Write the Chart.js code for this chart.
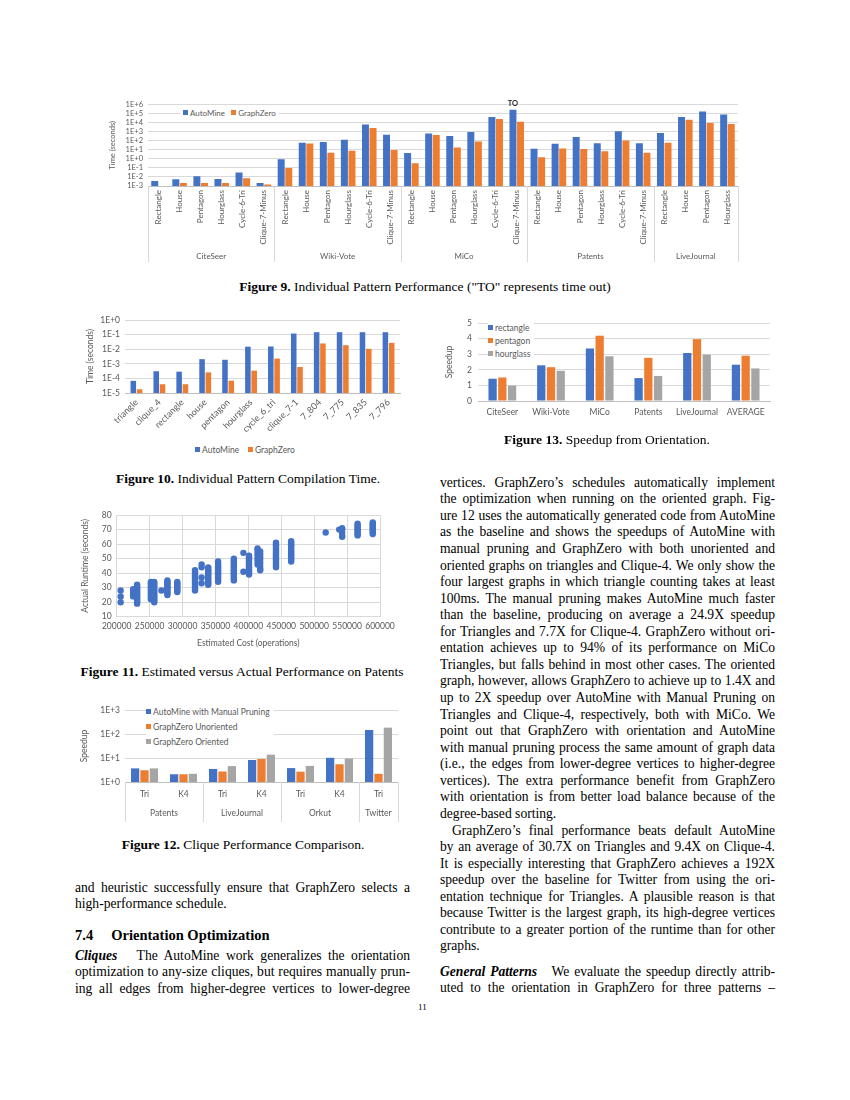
<!DOCTYPE html>
<html>
<head>
<meta charset="utf-8">
<script src="https://cdn.jsdelivr.net/npm/chart.js@4.4.0/dist/chart.umd.min.js"></script>
<style>
  body { margin: 0; width: 850px; height: 1100px; position: relative; background: #fff; overflow: hidden;
         font-family: 'Liberation Serif', serif; color: #000; }
  canvas { position: absolute; }
  .caption { position: absolute; width: 400px; font-size: 13.5px; line-height: 16px; text-align: center; white-space: nowrap; }
  .legend { position: absolute; font-family: Lato, sans-serif; color: #595959; background: #fff; white-space: nowrap; }
  .legend .sw { display: inline-block; width: 5px; height: 5px; margin-right: 2px; vertical-align: 1px; }
  .col { position: absolute; width: 335px; font-size: 13.6px; line-height: 16.57px; }
  .col div { text-align: justify; text-align-last: justify; white-space: nowrap; }
  .col div.last { text-align-last: left; }
  .col div.ind { padding-left: 12px; }
</style>
</head>
<body>

<canvas id="fig9" width="650" height="175" style="left:100px;top:95px"></canvas>
<div class="legend" style="left:180px;top:108px;font-size:8px;line-height:10px;padding:0 3px">
  <span class="sw" style="background:#4472C4"></span>AutoMine&nbsp;&nbsp;&nbsp;<span class="sw" style="background:#ED7D31"></span>GraphZero
</div>
<div class="caption" style="left:225px;top:279px"><b>Figure 9.</b> Individual Pattern Performance ("TO" represents time out)</div>

<canvas id="fig10" width="330" height="132" style="left:80px;top:310px"></canvas>
<div class="legend" style="left:195px;top:445px;font-size:8.5px;line-height:10px">
  <span class="sw" style="background:#4472C4"></span>AutoMine&nbsp;&nbsp;&nbsp;&nbsp;<span class="sw" style="background:#ED7D31"></span>GraphZero
</div>
<div class="caption" style="left:48px;top:471px"><b>Figure 10.</b> Individual Pattern Compilation Time.</div>

<canvas id="fig11" width="325" height="145" style="left:75px;top:505px"></canvas>
<div class="caption" style="left:42px;top:664px"><b>Figure 11.</b> Estimated versus Actual Performance on Patents</div>

<canvas id="fig12" width="330" height="125" style="left:75px;top:700px"></canvas>
<div class="legend" style="left:146px;top:705px;font-size:8.5px;line-height:15px;padding-right:4px">
  <div><span class="sw" style="background:#4472C4"></span>AutoMine with Manual Pruning</div>
  <div><span class="sw" style="background:#ED7D31"></span>GraphZero Unoriented</div>
  <div><span class="sw" style="background:#A5A5A5"></span>GraphZero Oriented</div>
</div>
<div class="caption" style="left:43px;top:837px"><b>Figure 12.</b> Clique Performance Comparison.</div>

<canvas id="fig13" width="345" height="110" style="left:435px;top:312px"></canvas>
<div class="legend" style="left:488px;top:322px;font-size:8.5px;line-height:13px;padding-right:4px">
  <div><span class="sw" style="background:#4472C4"></span>rectangle</div>
  <div><span class="sw" style="background:#ED7D31"></span>pentagon</div>
  <div><span class="sw" style="background:#A5A5A5"></span>hourglass</div>
</div>
<div class="caption" style="left:407px;top:432px"><b>Figure 13.</b> Speedup from Orientation.</div>

<div class="col" style="left:75px;top:879.7px">
  <div>and heuristic successfully ensure that GraphZero selects a</div>
  <div class="last">high-performance schedule.</div>
</div>
<div style="position:absolute;left:75px;top:926px;font-size:14.5px;line-height:18px;font-weight:bold;white-space:nowrap">7.4&nbsp;&nbsp;&nbsp;&nbsp;&nbsp;Orientation Optimization</div>
<div class="col" style="left:75px;top:947.7px">
  <div><b><i>Cliques</i></b>&nbsp;&nbsp; The AutoMine work generalizes the orientation</div>
  <div>optimization to any-size cliques, but requires manually prun-</div>
  <div>ing all edges from higher-degree vertices to lower-degree</div>
</div>
<div style="position:absolute;left:418px;top:1002px;font-size:9px;font-family:'Liberation Serif',serif">11</div>

<div class="col" style="left:440px;top:474.7px">
  <div>vertices. GraphZero’s schedules automatically implement</div>
  <div>the optimization when running on the oriented graph. Fig-</div>
  <div>ure 12 uses the automatically generated code from AutoMine</div>
  <div>as the baseline and shows the speedups of AutoMine with</div>
  <div>manual pruning and GraphZero with both unoriented and</div>
  <div>oriented graphs on triangles and Clique-4. We only show the</div>
  <div>four largest graphs in which triangle counting takes at least</div>
  <div>100ms. The manual pruning makes AutoMine much faster</div>
  <div>than the baseline, producing on average a 24.9X speedup</div>
  <div>for Triangles and 7.7X for Clique-4. GraphZero without ori-</div>
  <div>entation achieves up to 94% of its performance on MiCo</div>
  <div>Triangles, but falls behind in most other cases. The oriented</div>
  <div>graph, however, allows GraphZero to achieve up to 1.4X and</div>
  <div>up to 2X speedup over AutoMine with Manual Pruning on</div>
  <div>Triangles and Clique-4, respectively, both with MiCo. We</div>
  <div>point out that GraphZero with orientation and AutoMine</div>
  <div>with manual pruning process the same amount of graph data</div>
  <div>(i.e., the edges from lower-degree vertices to higher-degree</div>
  <div>vertices). The extra performance benefit from GraphZero</div>
  <div>with orientation is from better load balance because of the</div>
  <div class="last">degree-based sorting.</div>
  <div class="ind">GraphZero’s final performance beats default AutoMine</div>
  <div>by an average of 30.7X on Triangles and 9.4X on Clique-4.</div>
  <div>It is especially interesting that GraphZero achieves a 192X</div>
  <div>speedup over the baseline for Twitter from using the ori-</div>
  <div>entation technique for Triangles. A plausible reason is that</div>
  <div>because Twitter is the largest graph, its high-degree vertices</div>
  <div>contribute to a greater portion of the runtime than for other</div>
  <div class="last">graphs.</div>
</div>
<div class="col" style="left:440px;top:963.7px">
  <div><b><i>General Patterns</i></b>&nbsp;&nbsp; We evaluate the speedup directly attrib-</div>
  <div>uted to the orientation in GraphZero for three patterns –</div>
</div>

<script>
// Figure 9: per-pattern run time (seconds), log scale
const fig9Groups = ['CiteSeer', 'Wiki-Vote', 'MiCo', 'Patents', 'LiveJournal'];
const fig9GroupSizes = [6, 6, 6, 6, 4];
const sixPatterns = ['Rectangle', 'House', 'Pentagon', 'Hourglass', 'Cycle-6-Tri', 'Clique-7-Minus'];
const fig9Patterns = [...sixPatterns, ...sixPatterns, ...sixPatterns, ...sixPatterns,
    'Rectangle', 'House', 'Pentagon', 'Hourglass'];
const fig9AutoMine = [0.0036, 0.0055, 0.012, 0.006, 0.031, 0.0021,
    0.9, 60, 70, 125, 6000, 450,
    4.4, 620, 340, 930, 41000, 260000,
    13, 46, 265, 54, 1100, 54,
    720, 41000, 170000, 80000];
const fig9GraphZero = [null, 0.0021, 0.0021, 0.0021, 0.007, 0.0015,
    0.1, 50, 4.7, 8, 2500, 9.5,
    0.32, 440, 18, 81, 25000, 12600,
    1.45, 14, 12, 7, 105, 4.7,
    59, 21000, 9100, 7100];
const fig9TickValues = [1e-3, 1e-2, 1e-1, 1e0, 1e1, 1e2, 1e3, 1e4, 1e5, 1e6];
const fig9TickLabels = ['1E-3', '1E-2', '1E-1', '1E+0', '1E+1', '1E+2', '1E+3', '1E+4', '1E+5', '1E+6'];
const fig9TimeoutIndex = 17; // MiCo Clique-7-Minus

// Figure 10: compilation time (seconds), log scale
const fig10Patterns = ['triangle', 'clique_4', 'rectangle', 'house', 'pentagon', 'hourglass',
    'cycle_6_tri', 'clique_7-1', '7_804', '7_775', '7_835', '7_796'];
const fig10AutoMine = [6.8e-5, 3.1e-4, 2.9e-4, 2.1e-3, 1.9e-3, 1.5e-2, 1.55e-2, 0.12, 0.148, 0.148, 0.148, 0.148];
const fig10GraphZero = [1.8e-5, 4e-5, 4e-5, 2.6e-4, 7e-5, 3.4e-4, 2.3e-3, 6.1e-4, 2.5e-2, 1.9e-2, 1.07e-2, 2.75e-2];
const fig10TickValues = [1e-5, 1e-4, 1e-3, 1e-2, 1e-1, 1e0];
const fig10TickLabels = ['1E-5', '1E-4', '1E-3', '1E-2', '1E-1', '1E+0'];

// Figure 11: estimated cost vs actual runtime on Patents, one column of runtimes per cost
const fig11Costs = [206000, 225000, 231000, 252000, 257000, 268000, 277000, 292000, 319000, 329000,
    339000, 354000, 378000, 392500, 401000, 414000, 418000, 442000, 465000, 517500,
    538000, 542500, 566000, 589000];
const fig11Runtimes = [
    [20, 24, 28],
    [24, 25, 26, 27, 28, 29],
    [19, 20, 21, 22, 23, 24, 25, 26, 27, 28, 29, 30, 31, 32],
    [22, 23, 24, 25, 26, 27, 28, 29, 30, 31, 32, 33, 34],
    [20, 21, 22, 23, 24, 25, 26, 27, 28, 29, 30, 31, 32, 33, 34],
    [28],
    [25, 26, 27, 28, 29, 30, 31, 32, 33, 34, 35],
    [27, 28, 29, 30, 31, 32, 33, 34],
    [28, 29, 30, 31, 32, 33, 34, 35, 36, 37, 38, 39, 40, 41, 42],
    [33, 37, 44, 46],
    [32, 33, 34, 35, 36, 37, 38, 39, 40, 41, 42, 43, 44],
    [34, 35, 36, 37, 38, 39, 40, 41, 42, 43, 44, 45, 46, 47, 48],
    [35, 36, 37, 38, 39, 40, 41, 42, 43, 44, 45, 46, 47, 48, 49, 50],
    [41, 54],
    [39, 40, 41, 42, 43, 44, 45, 46, 47, 48, 49, 50, 51, 52],
    [46, 48, 50, 52, 54, 56, 57],
    [42, 43, 45, 47, 49, 51, 53, 55],
    [44, 45, 46, 47, 48, 49, 50, 51, 52, 53, 54, 55, 56, 57, 58, 59, 60, 61],
    [48, 49, 50, 51, 52, 53, 54, 55, 56, 57, 58, 59, 60, 61, 62],
    [68],
    [70],
    [65, 66, 68, 70, 71],
    [66, 67, 68, 69, 70, 71, 72, 73, 74],
    [67, 68, 69, 70, 71, 72, 73, 74, 75]
];

// Figure 12: clique speedups, log scale
const fig12Groups = ['Patents', 'LiveJournal', 'Orkut', 'Twitter'];
const fig12GroupSizes = [2, 2, 2, 1];
const fig12Patterns = ['Tri', 'K4', 'Tri', 'K4', 'Tri', 'K4', 'Tri'];
const fig12Manual = [3.7, 2.1, 3.5, 8.3, 3.8, 10.2, 148];
const fig12Unoriented = [3.1, 2.1, 2.75, 9.1, 2.7, 5.5, 2.2];
const fig12Oriented = [3.7, 2.2, 4.6, 13.8, 4.7, 9.6, 185];
const fig12TickValues = [1, 10, 100, 1000];
const fig12TickLabels = ['1E+0', '1E+1', '1E+2', '1E+3'];

// Figure 13: speedup from orientation
const fig13Graphs = ['CiteSeer', 'Wiki-Vote', 'MiCo', 'Patents', 'LiveJournal', 'AVERAGE'];
const fig13Rectangle = [1.43, 2.29, 3.37, 1.47, 3.08, 2.33];
const fig13Pentagon = [1.51, 2.17, 4.19, 2.77, 3.97, 2.91];
const fig13Hourglass = [0.99, 1.94, 2.87, 1.61, 2.98, 2.09];

const BLUE = '#4472C4', ORANGE = '#ED7D31', GRAY = '#A5A5A5';
const GRID = '#d9d9d9', TEXT = '#595959';

Chart.defaults.font.family = 'Lato, sans-serif';
Chart.defaults.color = TEXT;
Chart.defaults.animation = false;
Chart.defaults.plugins.legend.display = false;
Chart.defaults.plugins.tooltip.enabled = false;

// Fixed axis sizes keep the plot areas where the figure has them
function fixWidth(w) { return scale => { scale.width = w; }; }
function fixHeight(h) { return scale => { scale.height = h; }; }

// Second level of a category axis: group names with separators below the axis
function groupPlugin(groups, sizes, labelOffset, lineLength, fontSize) {
    return {
        id: 'groupLabels',
        afterDraw(chart) {
            const { ctx, chartArea } = chart;
            const x = chart.scales.x;
            const n = chart.data.labels.length;
            const edge = i => i <= 0 ? chartArea.left
                : i >= n ? chartArea.right
                : (x.getPixelForValue(i - 1) + x.getPixelForValue(i)) / 2;
            ctx.save();
            ctx.strokeStyle = GRID;
            ctx.lineWidth = 1;
            ctx.fillStyle = TEXT;
            ctx.font = fontSize + 'px Lato, sans-serif';
            ctx.textAlign = 'center';
            ctx.textBaseline = 'middle';
            let start = 0;
            groups.forEach((name, g) => {
                const end = start + sizes[g];
                const left = edge(start), right = edge(end);
                [left, right].forEach(px => {
                    ctx.beginPath();
                    ctx.moveTo(Math.round(px) + 0.5, chartArea.bottom);
                    ctx.lineTo(Math.round(px) + 0.5, chartArea.bottom + lineLength);
                    ctx.stroke();
                });
                ctx.fillText(name, (left + right) / 2, chartArea.bottom + labelOffset);
                start = end;
            });
            ctx.restore();
        }
    };
}

function logAxis(min, max, values, labels, fontSize, title, width) {
    return {
        type: 'logarithmic',
        min: min,
        max: max,
        afterBuildTicks: scale => { scale.ticks = values.map(v => ({ value: v })); },
        afterFit: fixWidth(width),
        ticks: { callback: (v, i) => labels[i], font: { size: fontSize }, padding: 5, autoSkip: false },
        grid: { color: GRID, drawTicks: false },
        border: { display: false },
        title: { display: true, text: title, font: { size: fontSize }, padding: { top: 0, bottom: 0 } }
    };
}

function createFig9() {
    const ctx = document.getElementById('fig9').getContext('2d');
    const timeoutLabel = {
        id: 'timeoutLabel',
        afterDatasetsDraw(chart) {
            const bar = chart.getDatasetMeta(0).data[fig9TimeoutIndex];
            const c = chart.ctx;
            c.save();
            c.fillStyle = '#262626';
            c.font = 'bold 7.5px Lato, sans-serif';
            c.textAlign = 'center';
            c.textBaseline = 'bottom';
            c.fillText('TO', bar.x, bar.y - 2);
            c.restore();
        }
    };
    return new Chart(ctx, {
        type: 'bar',
        data: {
            labels: fig9Patterns,
            datasets: [
                { label: 'AutoMine', data: fig9AutoMine, backgroundColor: BLUE },
                { label: 'GraphZero', data: fig9GraphZero, backgroundColor: ORANGE }
            ]
        },
        options: {
            responsive: false,
            devicePixelRatio: 1,
            layout: { padding: { left: 8, top: 8, right: 12, bottom: 0 } },
            datasets: { bar: { categoryPercentage: 0.72, barPercentage: 0.92 } },
            scales: {
                x: {
                    afterFit: fixHeight(84),
                    ticks: { minRotation: 90, maxRotation: 90, autoSkip: false, font: { size: 8 }, padding: 4 },
                    grid: { display: false, drawTicks: false },
                    border: { color: '#bfbfbf' }
                },
                y: logAxis(1e-3, 1e6, fig9TickValues, fig9TickLabels, 7.5, 'Time (seconds)', 40)
            }
        },
        plugins: [timeoutLabel, groupPlugin(fig9Groups, fig9GroupSizes, 70, 76, 8)]
    });
}

function createFig10() {
    const ctx = document.getElementById('fig10').getContext('2d');
    return new Chart(ctx, {
        type: 'bar',
        data: {
            labels: fig10Patterns,
            datasets: [
                { label: 'AutoMine', data: fig10AutoMine, backgroundColor: BLUE },
                { label: 'GraphZero', data: fig10GraphZero, backgroundColor: ORANGE }
            ]
        },
        options: {
            responsive: false,
            devicePixelRatio: 1,
            layout: { padding: { left: 5, top: 10, right: 10, bottom: 0 } },
            datasets: { bar: { categoryPercentage: 0.55, barPercentage: 0.88 } },
            scales: {
                x: {
                    afterFit: fixHeight(49),
                    ticks: { minRotation: 45, maxRotation: 45, autoSkip: false, font: { size: 9 }, padding: 4 },
                    grid: { display: false, drawTicks: false },
                    border: { color: '#bfbfbf' }
                },
                y: logAxis(1e-5, 1, fig10TickValues, fig10TickLabels, 8.5, 'Time (seconds)', 40)
            }
        }
    });
}

function createFig11() {
    const ctx = document.getElementById('fig11').getContext('2d');
    const points = [];
    fig11Costs.forEach((cost, i) => {
        fig11Runtimes[i].forEach(t => points.push({ x: cost, y: t }));
    });
    return new Chart(ctx, {
        type: 'scatter',
        data: {
            datasets: [{ label: 'Runtime', data: points, backgroundColor: BLUE, borderColor: BLUE,
                pointRadius: 3.2, pointBorderWidth: 0 }]
        },
        options: {
            responsive: false,
            devicePixelRatio: 1,
            layout: { padding: { left: 5, top: 6.7, right: 20, bottom: 0 } },
            scales: {
                x: {
                    min: 200000, max: 600000,
                    afterFit: fixHeight(33.3),
                    ticks: { stepSize: 50000, callback: v => String(v), font: { size: 8.5 }, padding: 4, maxRotation: 0 },
                    grid: { color: GRID, drawTicks: false },
                    border: { display: false },
                    title: { display: true, text: 'Estimated Cost (operations)', font: { size: 8.5 }, padding: { top: 0, bottom: 2 } }
                },
                y: {
                    min: 10, max: 80,
                    afterFit: fixWidth(36.7),
                    ticks: { stepSize: 10, font: { size: 8.5 }, padding: 5 },
                    grid: { color: GRID, drawTicks: false },
                    border: { display: false },
                    title: { display: true, text: 'Actual Runtime (seconds)', font: { size: 8.5 }, padding: { top: 0, bottom: 0 } }
                }
            }
        }
    });
}

function createFig12() {
    const ctx = document.getElementById('fig12').getContext('2d');
    return new Chart(ctx, {
        type: 'bar',
        data: {
            labels: fig12Patterns,
            datasets: [
                { label: 'AutoMine with Manual Pruning', data: fig12Manual, backgroundColor: BLUE },
                { label: 'GraphZero Unoriented', data: fig12Unoriented, backgroundColor: ORANGE },
                { label: 'GraphZero Oriented', data: fig12Oriented, backgroundColor: GRAY }
            ]
        },
        options: {
            responsive: false,
            devicePixelRatio: 1,
            layout: { padding: { left: 4, top: 5, right: 7, bottom: 0 } },
            datasets: { bar: { categoryPercentage: 0.72, barPercentage: 0.88 } },
            scales: {
                x: {
                    afterFit: fixHeight(43),
                    ticks: { maxRotation: 0, autoSkip: false, font: { size: 8.5 }, padding: 7 },
                    grid: { display: false, drawTicks: false },
                    border: { color: '#bfbfbf' }
                },
                y: logAxis(1, 1000, fig12TickValues, fig12TickLabels, 8.5, 'Speedup', 46)
            }
        },
        plugins: [groupPlugin(fig12Groups, fig12GroupSizes, 31, 40, 8.5)]
    });
}

function createFig13() {
    const ctx = document.getElementById('fig13').getContext('2d');
    return new Chart(ctx, {
        type: 'bar',
        data: {
            labels: fig13Graphs,
            datasets: [
                { label: 'rectangle', data: fig13Rectangle, backgroundColor: BLUE },
                { label: 'pentagon', data: fig13Pentagon, backgroundColor: ORANGE },
                { label: 'hourglass', data: fig13Hourglass, backgroundColor: GRAY }
            ]
        },
        options: {
            responsive: false,
            devicePixelRatio: 1,
            layout: { padding: { left: 9, top: 8, right: 10, bottom: 0 } },
            datasets: { bar: { categoryPercentage: 0.6, barPercentage: 0.85 } },
            scales: {
                x: {
                    afterFit: fixHeight(21),
                    ticks: { maxRotation: 0, autoSkip: false, font: { size: 8.5 }, padding: 6 },
                    grid: { display: false, drawTicks: false },
                    border: { color: '#bfbfbf' }
                },
                y: {
                    min: 0, max: 5,
                    afterFit: fixWidth(34),
                    ticks: { stepSize: 1, font: { size: 8.5 }, padding: 6 },
                    grid: { color: GRID, drawTicks: false },
                    border: { display: false },
                    title: { display: true, text: 'Speedup', font: { size: 8.5 }, padding: { top: 0, bottom: 0 } }
                }
            }
        }
    });
}

createFig9();
createFig10();
createFig11();
createFig12();
createFig13();
</script>
</body>
</html>
